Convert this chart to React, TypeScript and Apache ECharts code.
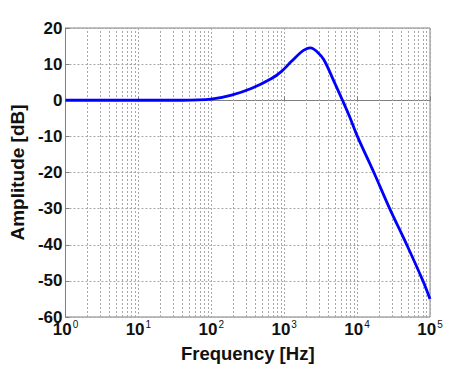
import React, { useEffect, useRef } from "react";
import * as echarts from "echarts";

const freqHz = [1, 10, 40, 100, 190, 360, 670, 920, 1250, 1700, 2000, 2300, 2800, 3500, 4800, 6300, 7800, 10100, 17000, 28000, 48000, 80000, 100000];
const amplitudeDb = [0, 0, 0, 0.3, 1.4, 3.3, 6.0, 8.0, 10.7, 13.3, 14.2, 14.5, 13.5, 11.2, 5.3, 0, -4.3, -10, -20, -30, -40, -50, -55];
const minorGridHz = [
  2, 3, 4, 5, 6, 7, 8, 9,
  20, 30, 40, 50, 60, 70, 80, 90,
  200, 300, 400, 500, 600, 700, 800, 900,
  2000, 3000, 4000, 5000, 6000, 7000, 8000, 9000,
  20000, 30000, 40000, 50000, 60000, 70000, 80000, 90000,
];
const yTicks = { min: -60, max: 20, interval: 10 };
const xRange = { min: 1, max: 100000 };

const FONT = "'Liberation Sans', Arial, sans-serif";
const GRID_COLOR = "#a8a8a8";

export default function App() {
  const ref = useRef<HTMLDivElement>(null);
  useEffect(() => {
    if (!ref.current) return;
    const chart = echarts.init(ref.current, null, { renderer: "svg" });
    chart.setOption({
      animation: false,
      backgroundColor: "#ffffff",
      grid: {
        left: 62,
        right: 44,
        top: 28,
        bottom: 51,
        show: true,
        borderColor: "#808080",
        borderWidth: 1,
      },
      xAxis: {
        type: "log",
        logBase: 10,
        min: xRange.min,
        max: xRange.max,
        name: "Frequency [Hz]",
        nameLocation: "middle",
        nameGap: 18,
        nameTextStyle: { fontFamily: FONT, fontWeight: "bold", fontSize: 18.5, color: "#111" },
        axisLine: { lineStyle: { color: "#808080", width: 1 } },
        axisTick: { inside: true, length: 4, lineStyle: { color: "#808080" } },
        splitLine: { show: true, lineStyle: { color: GRID_COLOR, type: [2, 2], width: 1 } },
        axisLabel: {
          margin: 3,
          formatter: (v: number) => `{b|10}{s|${Math.round(Math.log10(v))}}`,
          rich: {
            b: { fontFamily: FONT, fontWeight: "bold", fontSize: 17, color: "#111", lineHeight: 18 },
            s: { fontFamily: FONT, fontWeight: "normal", fontSize: 10, color: "#111", lineHeight: 18, padding: [0, 0, 10, 1] },
          },
        },
      },
      yAxis: {
        type: "value",
        min: yTicks.min,
        max: yTicks.max,
        interval: yTicks.interval,
        name: "Amplitude [dB]",
        nameLocation: "middle",
        nameGap: 38,
        nameTextStyle: { fontFamily: FONT, fontWeight: "bold", fontSize: 19, color: "#111" },
        axisLine: { show: true, lineStyle: { color: "#808080", width: 1 } },
        axisTick: { show: true, inside: true, length: 4, lineStyle: { color: "#808080" } },
        splitLine: { show: true, lineStyle: { color: GRID_COLOR, type: [2, 2], width: 1 } },
        axisLabel: { margin: 3, fontFamily: FONT, fontWeight: "bold", fontSize: 17, color: "#111" },
      },
      series: [
        {
          type: "line",
          data: [],
          silent: true,
          markLine: {
            silent: true,
            symbol: ["none", "none"],
            label: { show: false },
            lineStyle: { color: GRID_COLOR, type: [2, 2], width: 1 },
            data: minorGridHz.map((f) => ({ xAxis: f })),
          },
        },
        {
          type: "line",
          data: freqHz.map((f, i) => [f, amplitudeDb[i]]),
          showSymbol: false,
          smooth: 0.35,
          lineStyle: { color: "#0000ff", width: 2.8 },
          itemStyle: { color: "#0000ff" },
          z: 5,
        },
      ],
    });
    return () => chart.dispose();
  }, []);
  return <div ref={ref} style={{ width: 474, height: 368, position: "absolute", left: 0, top: 0 }} />;
}
